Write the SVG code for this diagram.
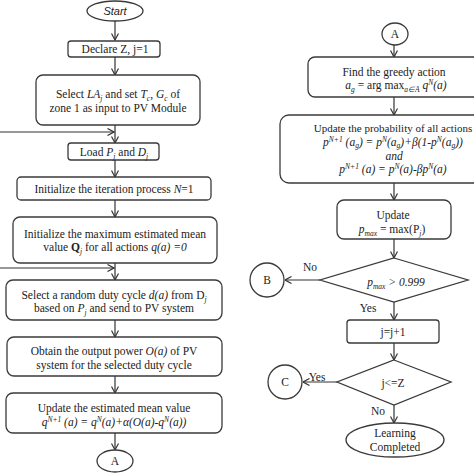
<svg xmlns="http://www.w3.org/2000/svg" width="474" height="474" viewBox="0 0 474 474">
<defs>
<marker id="ah" viewBox="0 0 8 8" refX="7.5" refY="4" markerWidth="8" markerHeight="8" markerUnits="userSpaceOnUse" orient="auto">
<path d="M1,0.5 L7.5,4 L1,7.5" fill="none" stroke="#333" stroke-width="1.2"/>
</marker>
<style>
.b{fill:#fff;stroke:#3a3a3a;stroke-width:1.3}
.c{fill:none;stroke:#333;stroke-width:1.2;marker-end:url(#ah)}
.t{font-family:"Liberation Serif","Times New Roman",serif;font-size:11.5px;fill:#222;text-anchor:middle}
.i{font-style:italic}
.s{font-size:7.5px}
</style>
</defs>
<rect width="474" height="474" fill="#fff"/>
<g id="connectors">
<line class="c" x1="115" y1="21" x2="115" y2="40"/>
<line class="c" x1="115" y1="57" x2="115" y2="75"/>
<line class="c" x1="115" y1="125" x2="115" y2="143"/>
<line class="c" x1="0" y1="132" x2="114" y2="132"/>
<line class="c" x1="115" y1="160" x2="115" y2="177"/>
<line class="c" x1="115" y1="200" x2="115" y2="217"/>
<line class="c" x1="115" y1="263" x2="115" y2="280"/>
<line class="c" x1="0" y1="268" x2="114" y2="268"/>
<line class="c" x1="115" y1="320" x2="115" y2="337"/>
<line class="c" x1="115" y1="376" x2="115" y2="393"/>
<line class="c" x1="115" y1="433" x2="115" y2="450"/>
<line class="c" x1="394" y1="45" x2="394" y2="57"/>
<line class="c" x1="394" y1="97" x2="394" y2="115"/>
<line class="c" x1="394" y1="183" x2="394" y2="200"/>
<line class="c" x1="394" y1="239" x2="394" y2="258"/>
<line class="c" x1="320" y1="280" x2="285" y2="280"/>
<line class="c" x1="394" y1="302" x2="394" y2="320"/>
<line class="c" x1="394" y1="343" x2="394" y2="360"/>
<line class="c" x1="337" y1="382" x2="303" y2="382"/>
<line class="c" x1="394" y1="405" x2="394" y2="423"/>
<text class="t" x="310" y="271">No</text>
<text class="t" x="368" y="312">Yes</text>
<text class="t" x="317" y="381">Yes</text>
<text class="t" x="378" y="415">No</text>
</g>
<g id="start">
<ellipse class="b" cx="115" cy="11" rx="28" ry="10"/>
<text x="115" y="15" style="font-family:'Liberation Sans',Arial,sans-serif;font-size:11px;font-style:italic;fill:#222;text-anchor:middle">Start</text>
</g>
<g id="declare">
<rect class="b" x="68" y="41" width="92" height="16" rx="3"/>
<text class="t" x="115" y="53">Declare Z,  j=1</text>
</g>
<g id="select-la">
<rect class="b" x="36" y="75" width="164" height="50" rx="7"/>
<text class="t" x="118" y="98">Select <tspan class="i">LA</tspan><tspan class="s i" dy="3">j</tspan><tspan dy="-3"> and set </tspan><tspan class="i">T</tspan><tspan class="s i" dy="3">c</tspan><tspan dy="-3">, </tspan><tspan class="i">G</tspan><tspan class="s i" dy="3">c</tspan><tspan dy="-3"> of</tspan></text>
<text class="t" x="118" y="112">zone 1 as input to PV Module</text>
</g>
<g id="load">
<rect class="b" x="68" y="143" width="91" height="17" rx="3"/>
<text class="t" x="114" y="156">Load <tspan class="i">P</tspan><tspan class="s i" dy="3">j</tspan><tspan dy="-3"> and </tspan><tspan class="i">D</tspan><tspan class="s i" dy="3">j</tspan></text>
</g>
<g id="init-iter">
<rect class="b" x="17" y="177" width="194" height="23" rx="4"/>
<text class="t" x="114" y="193">Initialize the iteration process <tspan class="i">N</tspan>=1</text>
</g>
<g id="init-max">
<rect class="b" x="13" y="217" width="204" height="46" rx="7"/>
<text class="t" x="115" y="238">Initialize the maximum estimated mean</text>
<text class="t" x="115" y="251">value <tspan font-weight="bold">Q</tspan><tspan class="s i" dy="3">j</tspan><tspan dy="-3">  for all actions </tspan><tspan class="i">q(a) =0</tspan></text>
</g>
<g id="select-duty">
<rect class="b" x="6" y="280" width="216" height="40" rx="7"/>
<text class="t" x="114" y="299">Select a random duty cycle <tspan class="i">d(a)</tspan>  from D<tspan class="s i" dy="3">j</tspan></text>
<text class="t" x="114" y="312">based on <tspan class="i">P</tspan><tspan class="s i" dy="3">j</tspan><tspan dy="-3">  and send to PV system</tspan></text>
</g>
<g id="obtain">
<rect class="b" x="7" y="337" width="215" height="39" rx="7"/>
<text class="t" x="114" y="355">Obtain the output power <tspan class="i">O(a)</tspan> of  PV</text>
<text class="t" x="114" y="369">system for the selected duty cycle</text>
</g>
<g id="update-mean">
<rect class="b" x="6" y="393" width="216" height="40" rx="7"/>
<text class="t" x="114" y="412">Update the estimated mean value</text>
<text class="t i" x="114" y="426">q<tspan class="s" dy="-4">N+1</tspan><tspan dy="4"> (a) = q</tspan><tspan class="s" dy="-4">N</tspan><tspan dy="4">(a)+α(O(a)-q</tspan><tspan class="s" dy="-4">N</tspan><tspan dy="4">(a))</tspan></text>
</g>
<g id="conn-a-left">
<ellipse class="b" cx="115" cy="461" rx="18" ry="11"/>
<text class="t" x="115" y="465">A</text>
</g>
<g id="conn-a-right">
<ellipse class="b" cx="395" cy="34" rx="13" ry="11"/>
<text class="t" x="395" y="38">A</text>
</g>
<g id="greedy">
<rect class="b" x="308" y="57" width="174" height="40" rx="7"/>
<text class="t" x="394" y="76">Find the greedy action</text>
<text class="t" x="396" y="89"><tspan class="i">a</tspan><tspan class="s i" dy="3">g</tspan><tspan dy="-3"> = arg max</tspan><tspan class="s i" dy="3">a∈A</tspan><tspan class="i" dy="-3">  q</tspan><tspan class="s i" dy="-4">N</tspan><tspan class="i" dy="4">(a)</tspan></text>
</g>
<g id="update-prob">
<rect class="b" x="280" y="115" width="230" height="68" rx="9"/>
<text class="t" x="393" y="132" style="font-size:11px">Update the probability of all actions</text>
<text class="t i" x="393" y="146">p<tspan class="s" dy="-4">N+1</tspan><tspan dy="4"> (a</tspan><tspan class="s" dy="2">g</tspan><tspan dy="-2">) = p</tspan><tspan class="s" dy="-4">N</tspan><tspan dy="4">(a</tspan><tspan class="s" dy="2">g</tspan><tspan dy="-2">)+β(1-p</tspan><tspan class="s" dy="-4">N</tspan><tspan dy="4">(a</tspan><tspan class="s" dy="2">g</tspan><tspan dy="-2">))</tspan></text>
<text class="t i" x="394" y="160">and</text>
<text class="t i" x="393" y="173">p<tspan class="s" dy="-4">N+1</tspan><tspan dy="4"> (a) = p</tspan><tspan class="s" dy="-4">N</tspan><tspan dy="4">(a)-βp</tspan><tspan class="s" dy="-4">N</tspan><tspan dy="4">(a)</tspan></text>
</g>
<g id="update-pmax">
<rect class="b" x="337" y="200" width="114" height="39" rx="7"/>
<text class="t" x="393" y="219">Update</text>
<text class="t" x="392" y="233"><tspan class="i">p</tspan><tspan class="s i" dy="3">max</tspan><tspan dy="-3"> = max(P</tspan><tspan class="s i" dy="3">j</tspan><tspan dy="-3">)</tspan></text>
</g>
<g id="dec-pmax">
<polygon class="b" points="394,258 468,280 394,302 320,280"/>
<text class="t i" x="396" y="286">p<tspan class="s" dy="3">max</tspan><tspan dy="-3"> &gt; 0.999</tspan></text>
</g>
<g id="conn-b">
<circle class="b" cx="267" cy="280" r="17"/>
<text class="t" x="267" y="284">B</text>
</g>
<g id="incr-j">
<rect class="b" x="347" y="320" width="92" height="23" rx="3"/>
<text class="t" x="393" y="336">j=j+1</text>
</g>
<g id="dec-j">
<polygon class="b" points="394,360 451,382 394,405 337,382"/>
<text class="t" x="393" y="387">j&lt;=Z</text>
</g>
<g id="conn-c">
<circle class="b" cx="285" cy="382" r="17"/>
<text class="t" x="285" y="386">C</text>
</g>
<g id="end">
<ellipse class="b" cx="395" cy="440" rx="49" ry="17"/>
<text class="t" x="395" y="437">Learning</text>
<text class="t" x="395" y="451">Completed</text>
</g>
</svg>
